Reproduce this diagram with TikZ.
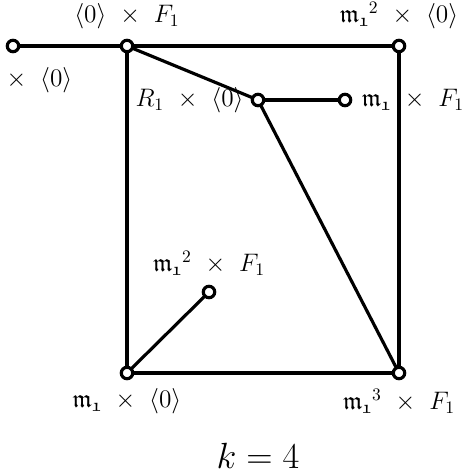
\documentclass[tikz,border=0pt]{standalone}
\usepackage{amsmath}
\usepackage{amssymb}
\usepackage{tkz-graph}
\newcommand{\mone}{\mathfrak{m_1}}
\newcommand{\tms}{\ \times\ }

\begin{document}
\begin{tikzpicture}
\useasboundingbox (0,0) rectangle (9.48,-9.48);
\GraphInit[vstyle=Classic]
\tikzset{VertexStyle/.style={draw, shape=circle, fill=white, line width=1.8pt,
    inner sep=0pt, minimum size=6.5pt},
  EdgeStyle/.style={line width=1.8pt}}
\Vertex[x=0.26, y=-0.92, LabelOut=true, Lpos=-90, Ldist=0.2cm, L={\Large\hphantom{$\times$}$F\tms\langle 0\rangle$}]{f0}
\Vertex[x=2.54, y=-0.92, LabelOut=true, Lpos=90, Ldist=0.1cm, L={\Large $\langle 0\rangle\tms F_1$}]{a0} % coin haut gauche
\Vertex[x=7.98, y=-0.92, LabelOut=true, Lpos=90, Ldist=0.1cm, L={\Large $\mone^2\tms\langle 0\rangle$}]{b0}
\Vertex[x=5.16, y=-2.0, LabelOut=true, Lpos=180, Ldist=0.05cm, L={\Large $R_1\tms\langle 0\rangle$}]{r0}
\Vertex[x=6.9, y=-2.0, LabelOut=true, Lpos=0, Ldist=0.1cm, L={\Large $\mone\tms F_1$}]{m1}
\Vertex[x=4.18, y=-5.84, LabelOut=true, Lpos=90, Ldist=0.1cm, L={\Large $\mone^2\tms F_1$}]{m2}
\Vertex[x=2.54, y=-7.46, LabelOut=true, Lpos=-90, Ldist=0.08cm, L={\Large $\mone\tms\langle 0\rangle$}]{d0}
\Vertex[x=7.98, y=-7.46, LabelOut=true, Lpos=-90, Ldist=0.08cm, L={\Large $\mone^3\tms F_1$}]{m3}
\Edge(f0)(a0)
\Edge(a0)(b0)
\Edge(a0)(r0)
\Edge(r0)(m1)
\Edge(r0)(m3)
\Edge(a0)(d0)
\Edge(b0)(m3)
\Edge(d0)(m3)
\Edge(d0)(m2)
\node[font=\huge] (kval) at (5.16,-9.12) {$k=4$};
\end{tikzpicture}
\end{document}
